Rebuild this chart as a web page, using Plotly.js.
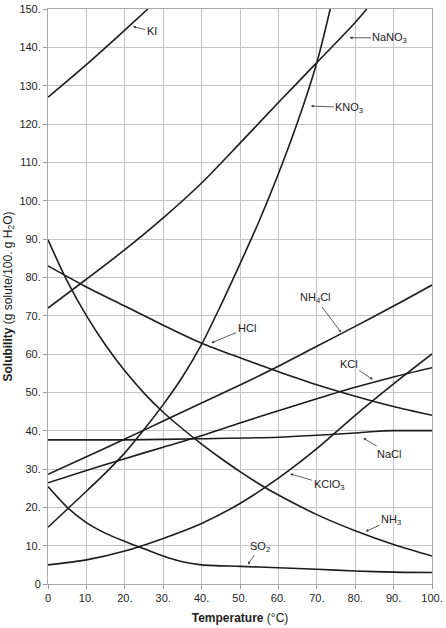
<!DOCTYPE html>
<html>
<head>
<meta charset="utf-8">
<script src="https://cdn.plot.ly/plotly-3.0.1.min.js"></script>
<style>
  html, body { margin: 0; padding: 0; background: #fff; }
  #chart { width: 446px; height: 628px; }
</style>
</head>
<body>
<div id="chart"></div>
<script>
// Curvas de solubilidade (g soluto / 100 g H2O) por temperatura (°C)

const kiTemp = [0, 10, 20, 26];
const kiSol = [127, 135.5, 144.5, 150];

const nano3Temp = [0, 10, 20, 30, 40, 50, 60, 70, 80, 83];
const nano3Sol = [72, 79.5, 87.2, 95.5, 104.6, 115, 125.6, 136, 146.5, 150];

const kno3Temp = [0, 5, 10, 15, 20, 25, 30, 35, 40, 45, 50, 55, 60, 65, 70, 73.5];
const kno3Sol = [14.8, 19.5, 24.2, 29, 34.2, 40.3, 46.8, 54, 62.5, 72.7, 83.5, 94.7, 107, 120.5, 136, 150];

const hclTemp = [0, 10, 20, 30, 40, 50, 60, 70, 80, 90, 100];
const hclSol = [83, 77.5, 72.5, 67.5, 62.8, 59, 55.4, 52, 49, 46.3, 44];

const nh4clTemp = [0, 10, 20, 30, 40, 50, 60, 70, 80, 90, 100];
const nh4clSol = [28.6, 33.2, 37.8, 42.5, 47.2, 51.9, 56.8, 62, 67.2, 72.5, 78];

const kclTemp = [0, 10, 20, 30, 40, 50, 60, 70, 80, 90, 100];
const kclSol = [26.4, 29.6, 32.7, 35.7, 38.7, 42, 45.2, 48.3, 51.3, 54, 56.4];

const naclTemp = [0, 20, 40, 60, 70, 80, 85, 90, 100];
const naclSol = [37.6, 37.6, 37.9, 38.3, 38.8, 39.4, 39.8, 40, 40];

const kclo3Temp = [0, 10, 20, 30, 40, 50, 60, 70, 80, 90, 100];
const kclo3Sol = [5, 6.3, 8.6, 11.9, 15.8, 21, 27.6, 35.3, 44, 52.2, 60];

const nh3Temp = [0, 5, 10, 15, 20, 25, 30, 35, 40, 45, 50, 55, 60, 70, 80, 90, 100];
const nh3Sol = [89.8, 79, 70, 62.3, 55.6, 49.8, 44.8, 40.5, 36.5, 32.8, 29.3, 26.1, 23.2, 18.1, 13.9, 10.3, 7.3];

const so2Temp = [0, 5, 10, 15, 20, 25, 30, 35, 40, 50, 60, 70, 80, 90, 100];
const so2Sol = [25.4, 20, 16, 13.2, 11.1, 9.2, 7.3, 5.8, 5, 4.6, 4.25, 3.85, 3.4, 3.1, 3];

const xTicks = [0, 10, 20, 30, 40, 50, 60, 70, 80, 90, 100];
const xTickText = ["0", "10.", "20.", "30.", "40.", "50.", "60.", "70.", "80.", "90.", "100."];
const yTicks = [0, 10, 20, 30, 40, 50, 60, 70, 80, 90, 100, 110, 120, 130, 140, 150];
const yTickText = ["0", "10.", "20.", "30.", "40.", "50.", "60.", "70.", "80.", "90.",
    "100.", "110.", "120.", "130.", "140.", "150."];

// [nome, seta x, seta y, texto x, texto y]
const rotulos = [
    ["KI", 21.9, 145.5, 27, 144.2],
    ["NaNO<sub>3</sub>", 78.3, 142.5, 89, 142.5],
    ["KNO<sub>3</sub>", 68.2, 124.7, 78.5, 124.3],
    ["NH<sub>4</sub>Cl", 76.5, 65.4, 69.7, 74.5],
    ["HCl", 42.3, 62.8, 51.7, 66.7],
    ["KCl", 84.8, 53.2, 78.3, 57.5],
    ["NaCl", 81.9, 38.2, 88.8, 34],
    ["KClO<sub>3</sub>", 62.8, 28.8, 73.2, 25.8],
    ["NH<sub>3</sub>", 82.5, 13.6, 89.3, 16.7],
    ["SO<sub>2</sub>", 51.9, 4.9, 55.3, 9.7],
];

const estiloLinha = { color: "#1c1c1c", width: 1.6, shape: "spline", smoothing: 0.8 };

function curva(x, y, nome) {
    return { x: x, y: y, name: nome, mode: "lines", line: estiloLinha, hoverinfo: "skip" };
}

const traces = [
    curva(kiTemp, kiSol, "KI"),
    curva(nano3Temp, nano3Sol, "NaNO3"),
    curva(kno3Temp, kno3Sol, "KNO3"),
    curva(hclTemp, hclSol, "HCl"),
    curva(nh4clTemp, nh4clSol, "NH4Cl"),
    curva(kclTemp, kclSol, "KCl"),
    curva(naclTemp, naclSol, "NaCl"),
    curva(kclo3Temp, kclo3Sol, "KClO3"),
    curva(nh3Temp, nh3Sol, "NH3"),
    curva(so2Temp, so2Sol, "SO2"),
];

const annotations = rotulos.map(([texto, x, y, ax, ay]) => ({
    text: texto,
    x: x, y: y, xref: "x", yref: "y",
    ax: ax, ay: ay, axref: "x", ayref: "y",
    showarrow: true,
    arrowhead: 2,
    arrowsize: 0.7,
    arrowwidth: 0.8,
    arrowcolor: "#333",
    standoff: 1,
    font: { size: 11, color: "#222" },
}));

const layout = {
    width: 446,
    height: 628,
    paper_bgcolor: "#fff",
    plot_bgcolor: "#fff",
    showlegend: false,
    font: { family: "Liberation Sans, Arial, sans-serif", size: 11, color: "#222" },
    margin: { l: 48, r: 14, t: 9, b: 44 },
    xaxis: {
        range: [0, 100],
        tickvals: xTicks,
        ticktext: xTickText,
        ticks: "outside",
        ticklen: 4,
        tickcolor: "#999",
        showgrid: true,
        gridcolor: "#c4c4c4",
        gridwidth: 1,
        zeroline: false,
        showline: true,
        linecolor: "#aaa",
        mirror: true,
        title: { text: "<b>Temperature</b> (°C)", font: { size: 12 }, standoff: 10 },
    },
    yaxis: {
        range: [0, 150],
        tickvals: yTicks,
        ticktext: yTickText,
        ticks: "outside",
        ticklen: 4,
        tickcolor: "#999",
        showgrid: true,
        gridcolor: "#c4c4c4",
        gridwidth: 1,
        zeroline: false,
        showline: true,
        linecolor: "#aaa",
        mirror: true,
        title: { text: "<b>Solubility</b> (g solute/100. g H<sub>2</sub>O)", font: { size: 12 }, standoff: 4 },
    },
    annotations: annotations,
};

Plotly.newPlot("chart", traces, layout, { displayModeBar: false, staticPlot: true });
</script>
</body>
</html>
